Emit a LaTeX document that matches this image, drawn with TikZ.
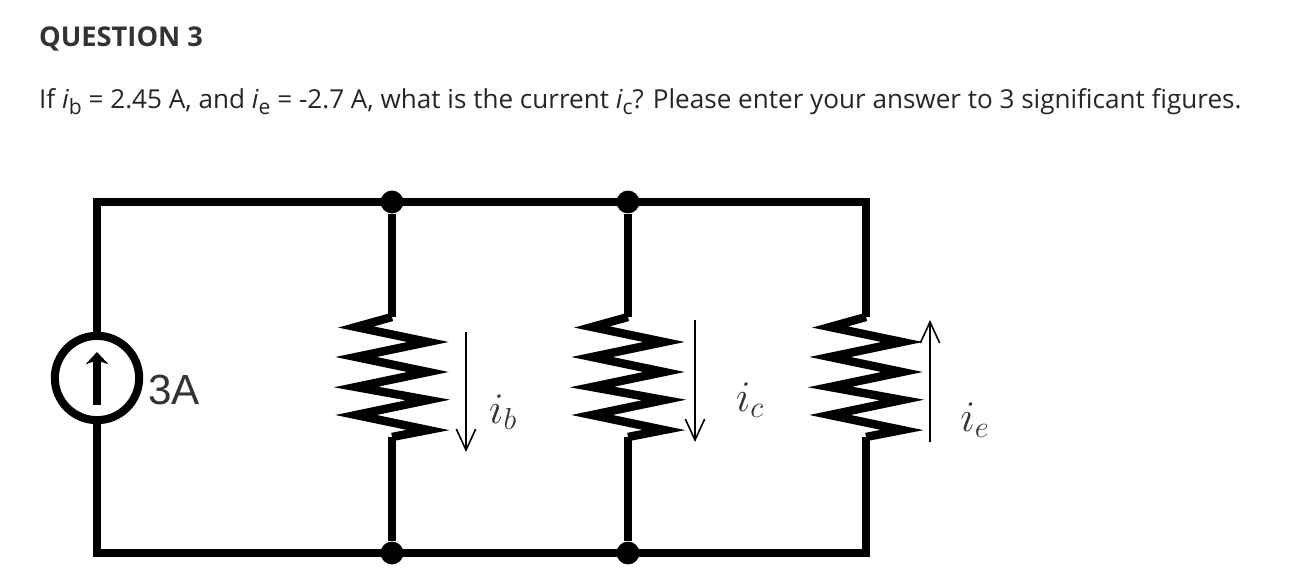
\documentclass[tikz,border=0pt]{standalone}
\usepackage{fontspec}
\setmainfont{Open Sans}
\newfontfamily\arialfont{Liberation Sans}
\usepackage{amsmath}
\usetikzlibrary{arrows, arrows.meta}

\begin{document}
\begin{tikzpicture}[x=0.02cm,y=-0.02cm,>=stealth',wire/.style={line width=4.8pt},cur/.style={line width=0.9pt,-{Straight Barb[length=12pt,width=11pt,line width=0.9pt]}}]
\tikzstyle{dot} = [circle, fill=black, inner sep=0pt, minimum size=13pt]
\tikzstyle{res} = [wire, line join=miter]
\useasboundingbox (0,0) rectangle (1306,588);

\node[anchor=base west, text=black!80, font=\fontsize{15.5}{18}\selectfont\bfseries] (title) at (33,47) {QUESTION 3};
\node[anchor=base west, text=black!85, font=\fontsize{14.85}{18}\selectfont] (question) at (33,109) {If \textit{i}\raisebox{-0.4ex}{\fontsize{12}{14}\selectfont b} = 2.45 A, and \textit{i}\raisebox{-0.4ex}{\fontsize{12}{14}\selectfont e} = -2.7 A, what is the current \textit{i}\raisebox{-0.4ex}{\fontsize{12}{14}\selectfont c}? Please enter your answer to 3 significant figures.};

% corners and junctions
\coordinate (tl) at (97,202);
\coordinate (bl) at (97,553);
\coordinate (tr) at (866,202);
\coordinate (br) at (866,553);
\node[dot] (tb) at (392,202) {};
\node[dot] (bb) at (392,553) {};
\node[dot] (tc) at (628,202) {};
\node[dot] (bc) at (628,553) {};

% current source
\node[circle, draw, line width=4.6pt, minimum size=48pt, inner sep=0pt] (src) at (97,378) {};
\draw[wire] (src.north) -- (tl);
\draw[wire] (src.south) -- (bl);
\draw[line width=4.4pt, -{Stealth[length=7pt,width=13pt]}] (97,405) -- (97,352);
\node[anchor=west, inner sep=0pt, font=\arialfont\fontsize{24}{26}\selectfont, text=black!80] (amps) at (148,390) {3A};

\draw[wire, line cap=rect] (tl) -- (tr);
\draw[wire, line cap=rect] (bl) -- (br);

% resistors
\foreach \n/\x in {b/392, c/628, e/866} {
  \coordinate (r\n top) at (\x,317);
  \coordinate (r\n bot) at (\x,437);
}
\draw[wire] (tb) -- (rbtop);
\draw[wire] (tc) -- (rctop);
\draw[wire] (tr) -- (retop);
\draw[wire] (rbbot) -- (bb);
\draw[wire] (rcbot) -- (bc);
\draw[wire] (rebot) -- (br);
\foreach \n in {b, c, e} {
  \draw[res] (r\n top) -- ++(-36,10) -- ++(72,15) -- ++(-72,15) -- ++(72,15) -- ++(-72,15) -- ++(72,13) -- ++(-72,15) -- ++(72,15) -- (r\n bot);
}

% branch currents
\coordinate (ib1) at (466,332);
\coordinate (ib2) at (466,452);
\coordinate (ic1) at (695,320);
\coordinate (ic2) at (695,442);
\coordinate (ie1) at (930,442);
\coordinate (ie2) at (930,320);
\draw[cur] (ib1) -- (ib2);
\draw[cur] (ic1) -- (ic2);
\draw[cur] (ie1) -- (ie2);
\node[font=\fontsize{26}{28}\selectfont, text=black!80] (lb) at (503,412) {$i_b$};
\node[font=\fontsize{26}{28}\selectfont, text=black!80] (lc) at (750,400) {$i_c$};
\node[font=\fontsize{26}{28}\selectfont, text=black!80] (le) at (975,420) {$i_e$};

\end{tikzpicture}
\end{document}
